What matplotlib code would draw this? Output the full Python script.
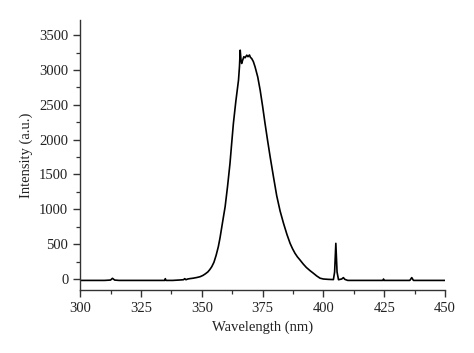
"""Emission spectrum: intensity vs wavelength."""

import matplotlib

matplotlib.use("Agg")
import matplotlib.pyplot as plt
from matplotlib.ticker import MultipleLocator

# Values
wavelength_nm = [
    300.0, 305.0, 310.0, 312.5, 313.3, 314.2, 316.0, 320.0, 325.0, 330.0,
    334.8, 335.0, 335.3, 338.0, 341.0, 342.5, 343.0, 343.5, 344.2, 345.0,
    346.5, 348.0, 349.3, 350.5, 351.5, 352.5, 353.3, 354.1, 355.0, 355.9,
    356.8, 357.5, 358.2, 358.9, 359.6, 360.6, 361.6, 362.3, 363.0, 364.0,
    365.1, 365.5, 365.8, 366.1, 366.4, 366.8, 367.3, 367.8, 368.5, 369.0,
    369.6, 370.0, 370.5, 371.2, 371.9, 373.0, 374.0, 375.0, 376.0, 377.0,
    378.1, 379.5, 380.8, 382.2, 383.6, 385.0, 386.3, 387.3, 388.3, 389.3,
    390.4, 391.7, 393.0, 394.5, 395.9, 397.2, 398.6, 400.0, 402.0, 404.1,
    404.6, 405.1, 405.6, 406.2, 407.5, 408.2, 408.8, 410.0, 415.0, 420.0,
    424.5, 424.7, 424.9, 430.0, 435.5, 436.3, 437.0, 440.0, 445.0, 450.0,
]
intensity_au = [
    -20, -20, -20, -15, 10, -15, -20, -20, -20, -20,
    -20, 5, -20, -20, -14, -10, 5, -10, 0, 5,
    12, 22, 33, 52, 75, 102, 135, 176, 240, 340,
    463, 590, 740, 890, 1037, 1330, 1659, 1950, 2233, 2550,
    2854, 3050, 3284, 3150, 3093, 3140, 3190, 3175, 3212, 3190,
    3215, 3180, 3165, 3120, 3045, 2900, 2710, 2480, 2233, 2000,
    1754, 1460, 1195, 975, 799, 640, 512, 435, 370, 318,
    272, 215, 165, 120, 82, 45, 12, 0, -5, -8,
    100, 512, 100, -10, 0, 20, -5, -20, -20, -20,
    -20, 0, -20, -20, -20, 20, -20, -20, -20, -20,
]

x_ticks = [300, 325, 350, 375, 400, 425, 450]
y_ticks = [0, 500, 1000, 1500, 2000, 2500, 3000, 3500]


def main() -> None:
    plt.rcParams["font.family"] = ["Liberation Serif", "DejaVu Serif"]
    plt.rcParams["font.size"] = 10.5

    fig = plt.figure(figsize=(4.74, 3.53), dpi=100)
    ax = fig.add_axes([0.169, 0.178, 0.770, 0.765])

    ax.plot(wavelength_nm, intensity_au, color="black", linewidth=1.2)

    ax.set_xlim(300, 450)
    ax.set_ylim(-160, 3715)
    ax.set_xticks(x_ticks)
    ax.set_yticks(y_ticks)
    ax.xaxis.set_minor_locator(MultipleLocator(12.5))
    ax.yaxis.set_minor_locator(MultipleLocator(250))

    for side in ("top", "right"):
        ax.spines[side].set_visible(False)
    for side in ("left", "bottom"):
        ax.spines[side].set_linewidth(1.0)
        ax.spines[side].set_color("#333333")

    ax.tick_params(which="major", direction="out", length=5, width=1.0,
                   color="#333333", labelcolor="#222222")
    ax.tick_params(which="minor", direction="out", length=3, width=0.9,
                   color="#333333")

    ax.set_xlabel("Wavelength (nm)", color="#222222", labelpad=4)
    ax.set_ylabel("Intensity (a.u.)", color="#222222", labelpad=4)

    fig.savefig("out.png", dpi=100)
    plt.close(fig)


if __name__ == "__main__":
    main()
